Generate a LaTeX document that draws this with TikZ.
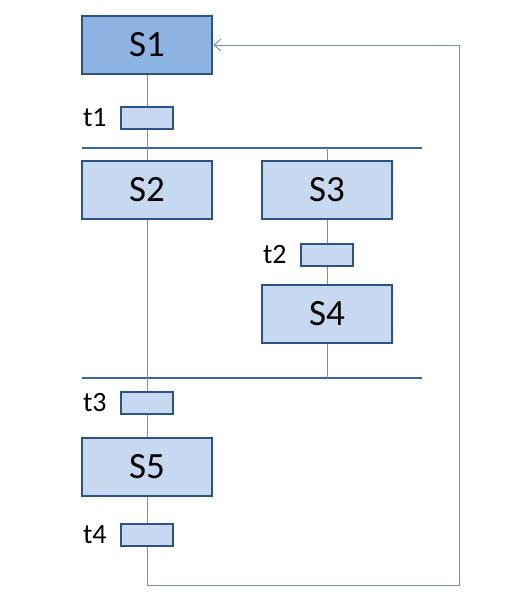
\documentclass[tikz,border=0pt]{standalone}
\usepackage{fontspec}
\setmainfont{Carlito}
\usetikzlibrary{positioning,arrows.meta}
\definecolor{stepedge}{RGB}{44,82,138}
\definecolor{stepfill}{RGB}{198,217,241}
\definecolor{initfill}{RGB}{141,179,226}
\definecolor{linkblue}{RGB}{112,146,194}
\definecolor{syncblue}{RGB}{58,102,160}

\begin{document}
\begin{tikzpicture}[x=1pt,y=-1pt,
  stepbox/.style={draw=stepedge,line width=2.5pt,fill=stepfill,
    minimum width=130pt,minimum height=58pt,inner sep=0pt,
    font=\fontsize{37}{39}\selectfont},
  initbox/.style={stepbox,fill=initfill},
  transbar/.style={draw=stepedge,line width=2.3pt,fill=stepfill,
    minimum width=52pt,minimum height=22pt,inner sep=0pt},
  translabel/.style={font=\fontsize{28}{30}\selectfont,inner sep=0pt},
  link/.style={draw=linkblue,line width=1pt},
  syncline/.style={draw=syncblue,line width=2.4pt}]
  \useasboundingbox (0,0) rectangle (520,600);
  % steps
  \node[initbox] (S1) at (147,45) {S1};
  \node[stepbox] (S2) at (147,190) {S2};
  \node[stepbox] (S3) at (327,190) {S3};
  \node[stepbox] (S4) at (327,314) {S4};
  \node[stepbox] (S5) at (147,467) {S5};
  % transitions
  \node[transbar] (t1) at (147,118) {};
  \node[transbar] (t2) at (327,255) {};
  \node[transbar] (t3) at (147,403) {};
  \node[transbar] (t4) at (147,535) {};
  \node[translabel,left=13pt of t1] (t1l) {t1};
  \node[translabel,left=13pt of t2] (t2l) {t2};
  \node[translabel,left=13pt of t3] (t3l) {t3};
  \node[translabel,left=13pt of t4] (t4l) {t4};
  % parallel branch lines
  \coordinate (forkW) at (82,148);
  \coordinate (forkE) at (422,148);
  \coordinate (joinW) at (82,378);
  \coordinate (joinE) at (422,378);
  \coordinate (back) at (459,585);
  \draw[syncline] (forkW) -- (forkE);
  \draw[syncline] (joinW) -- (joinE);
  % links
  \draw[link] (S1.south) -- (t1.north);
  \draw[link] (t1.south) -- (S2.north);
  \draw[link] (S3.north) -- (S3.north |- forkE);
  \draw[link] (S3.south) -- (t2.north);
  \draw[link] (t2.south) -- (S4.north);
  \draw[link] (S4.south) -- (S4.south |- joinE);
  \draw[link] (S2.south) -- (t3.north);
  \draw[link] (t3.south) -- (S5.north);
  \draw[link] (S5.south) -- (t4.north);
  \draw[link,-{Straight Barb[length=7pt,width=12pt]}] (t4.south) |- (back) |- (S1.east);
\end{tikzpicture}
\end{document}
